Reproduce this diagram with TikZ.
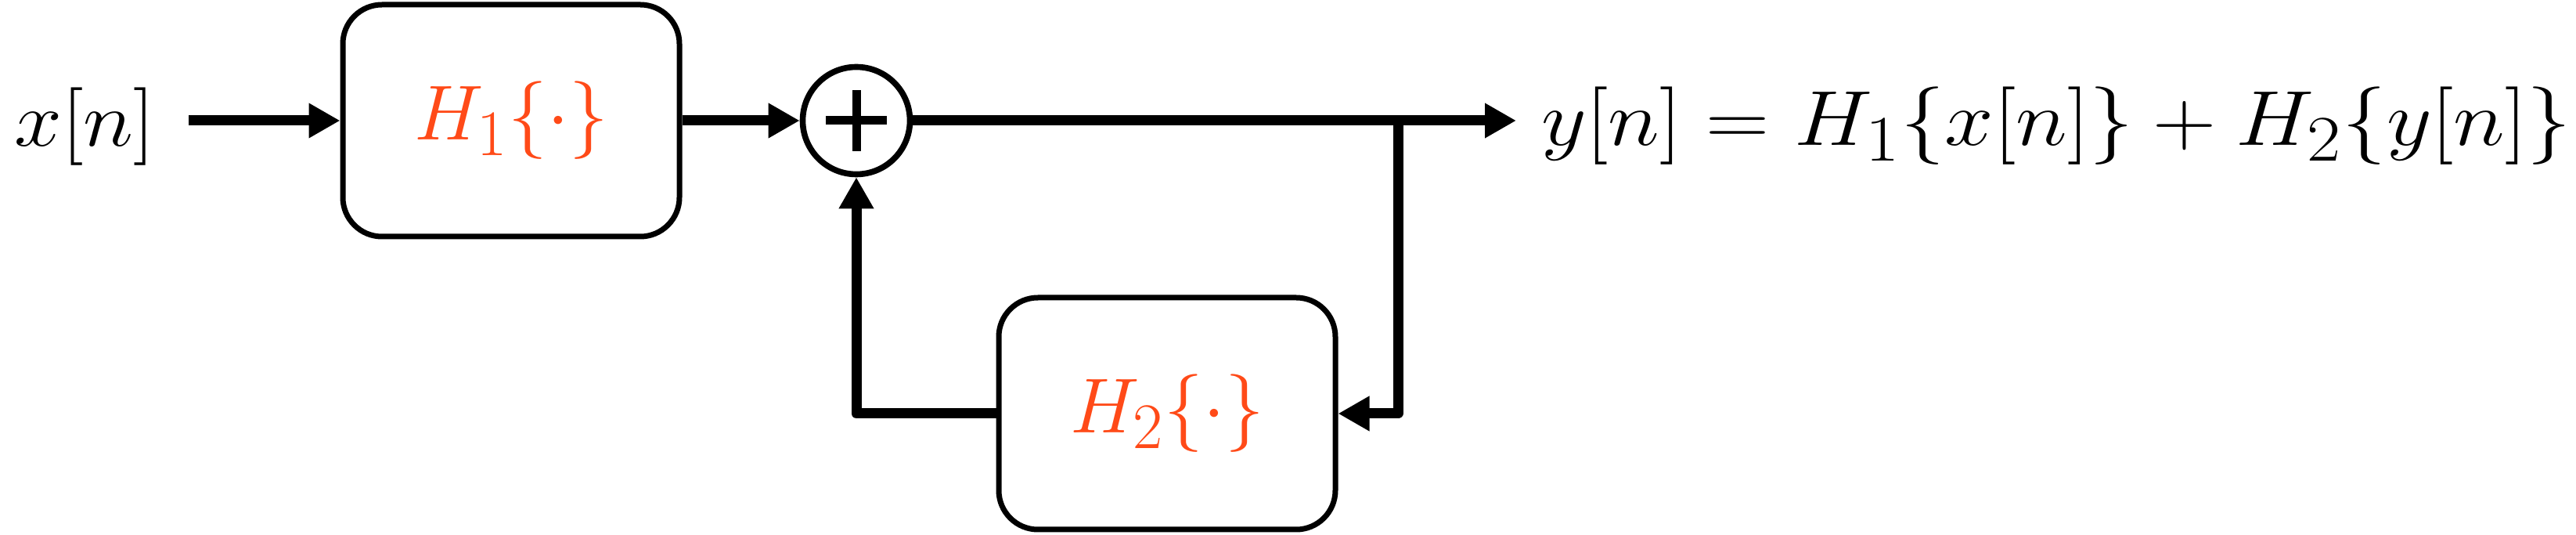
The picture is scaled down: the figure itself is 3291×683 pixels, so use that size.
\documentclass[tikz,border=0pt]{standalone}
\usepackage{graphicx}
\usetikzlibrary{arrows.meta}

\definecolor{sysorange}{RGB}{255,74,24}

\tikzset{
  blockbox/.style={draw, line width=1.75pt, rounded corners=12.5pt,
    minimum width=107.5pt, minimum height=74pt, text=sysorange},
  sumnode/.style={draw, circle, line width=1.9pt, minimum size=34.25pt, inner sep=0pt},
  sigline/.style={line width=3.25pt, line join=round, -{Triangle[length=10pt,width=10.5pt]}},
  plusline/.style={line width=2.75pt},
  bigtext/.style={font=\fontsize{27.5}{33}\selectfont}
}

\begin{document}
\begin{tikzpicture}[x=0.25pt,y=0.25pt,yscale=-1,xscale=1]
\useasboundingbox (0,0) rectangle (3291,683);

% Blocks
\node (h1box) [blockbox, bigtext] at (653,154) {$H_1\{\cdot\}$};
\node (h2box) [blockbox, bigtext] at (1491,528) {$H_2\{\cdot\}$};
%Shape: Circle (adder)
\node (sum) [sumnode] at (1094,154) {};
\draw [plusline] ([xshift=-9.75pt]sum.center) -- ([xshift=9.75pt]sum.center);
\draw [plusline] ([yshift=-9.75pt]sum.center) -- ([yshift=9.75pt]sum.center);

% Text Node
\node (xin) [bigtext, anchor=base] at (108,187) {\scalebox{1.1}[1]{$x[n]$}};
% Text Node
\node (yout) [bigtext, anchor=base] at (2627,186) {\scalebox{1.13}[1]{$y[n] = H_1\{x[n]\} + H_2\{y[n]\}$}};

% free ends
\coordinate (xstart) at (241,154);
\coordinate (yend) at (1937,154);
\coordinate (tap) at (1786,154);

%Straight Lines
\draw [sigline] (xstart) -- (h1box.west);
\draw [sigline] (h1box.east) -- (sum.west);
\draw [sigline] (sum.east) -- (yend);
%Feedback
\draw [sigline] (tap) |- (h2box.east);
\draw [sigline] (h2box.west) -| (sum.south);

\end{tikzpicture}
\end{document}
